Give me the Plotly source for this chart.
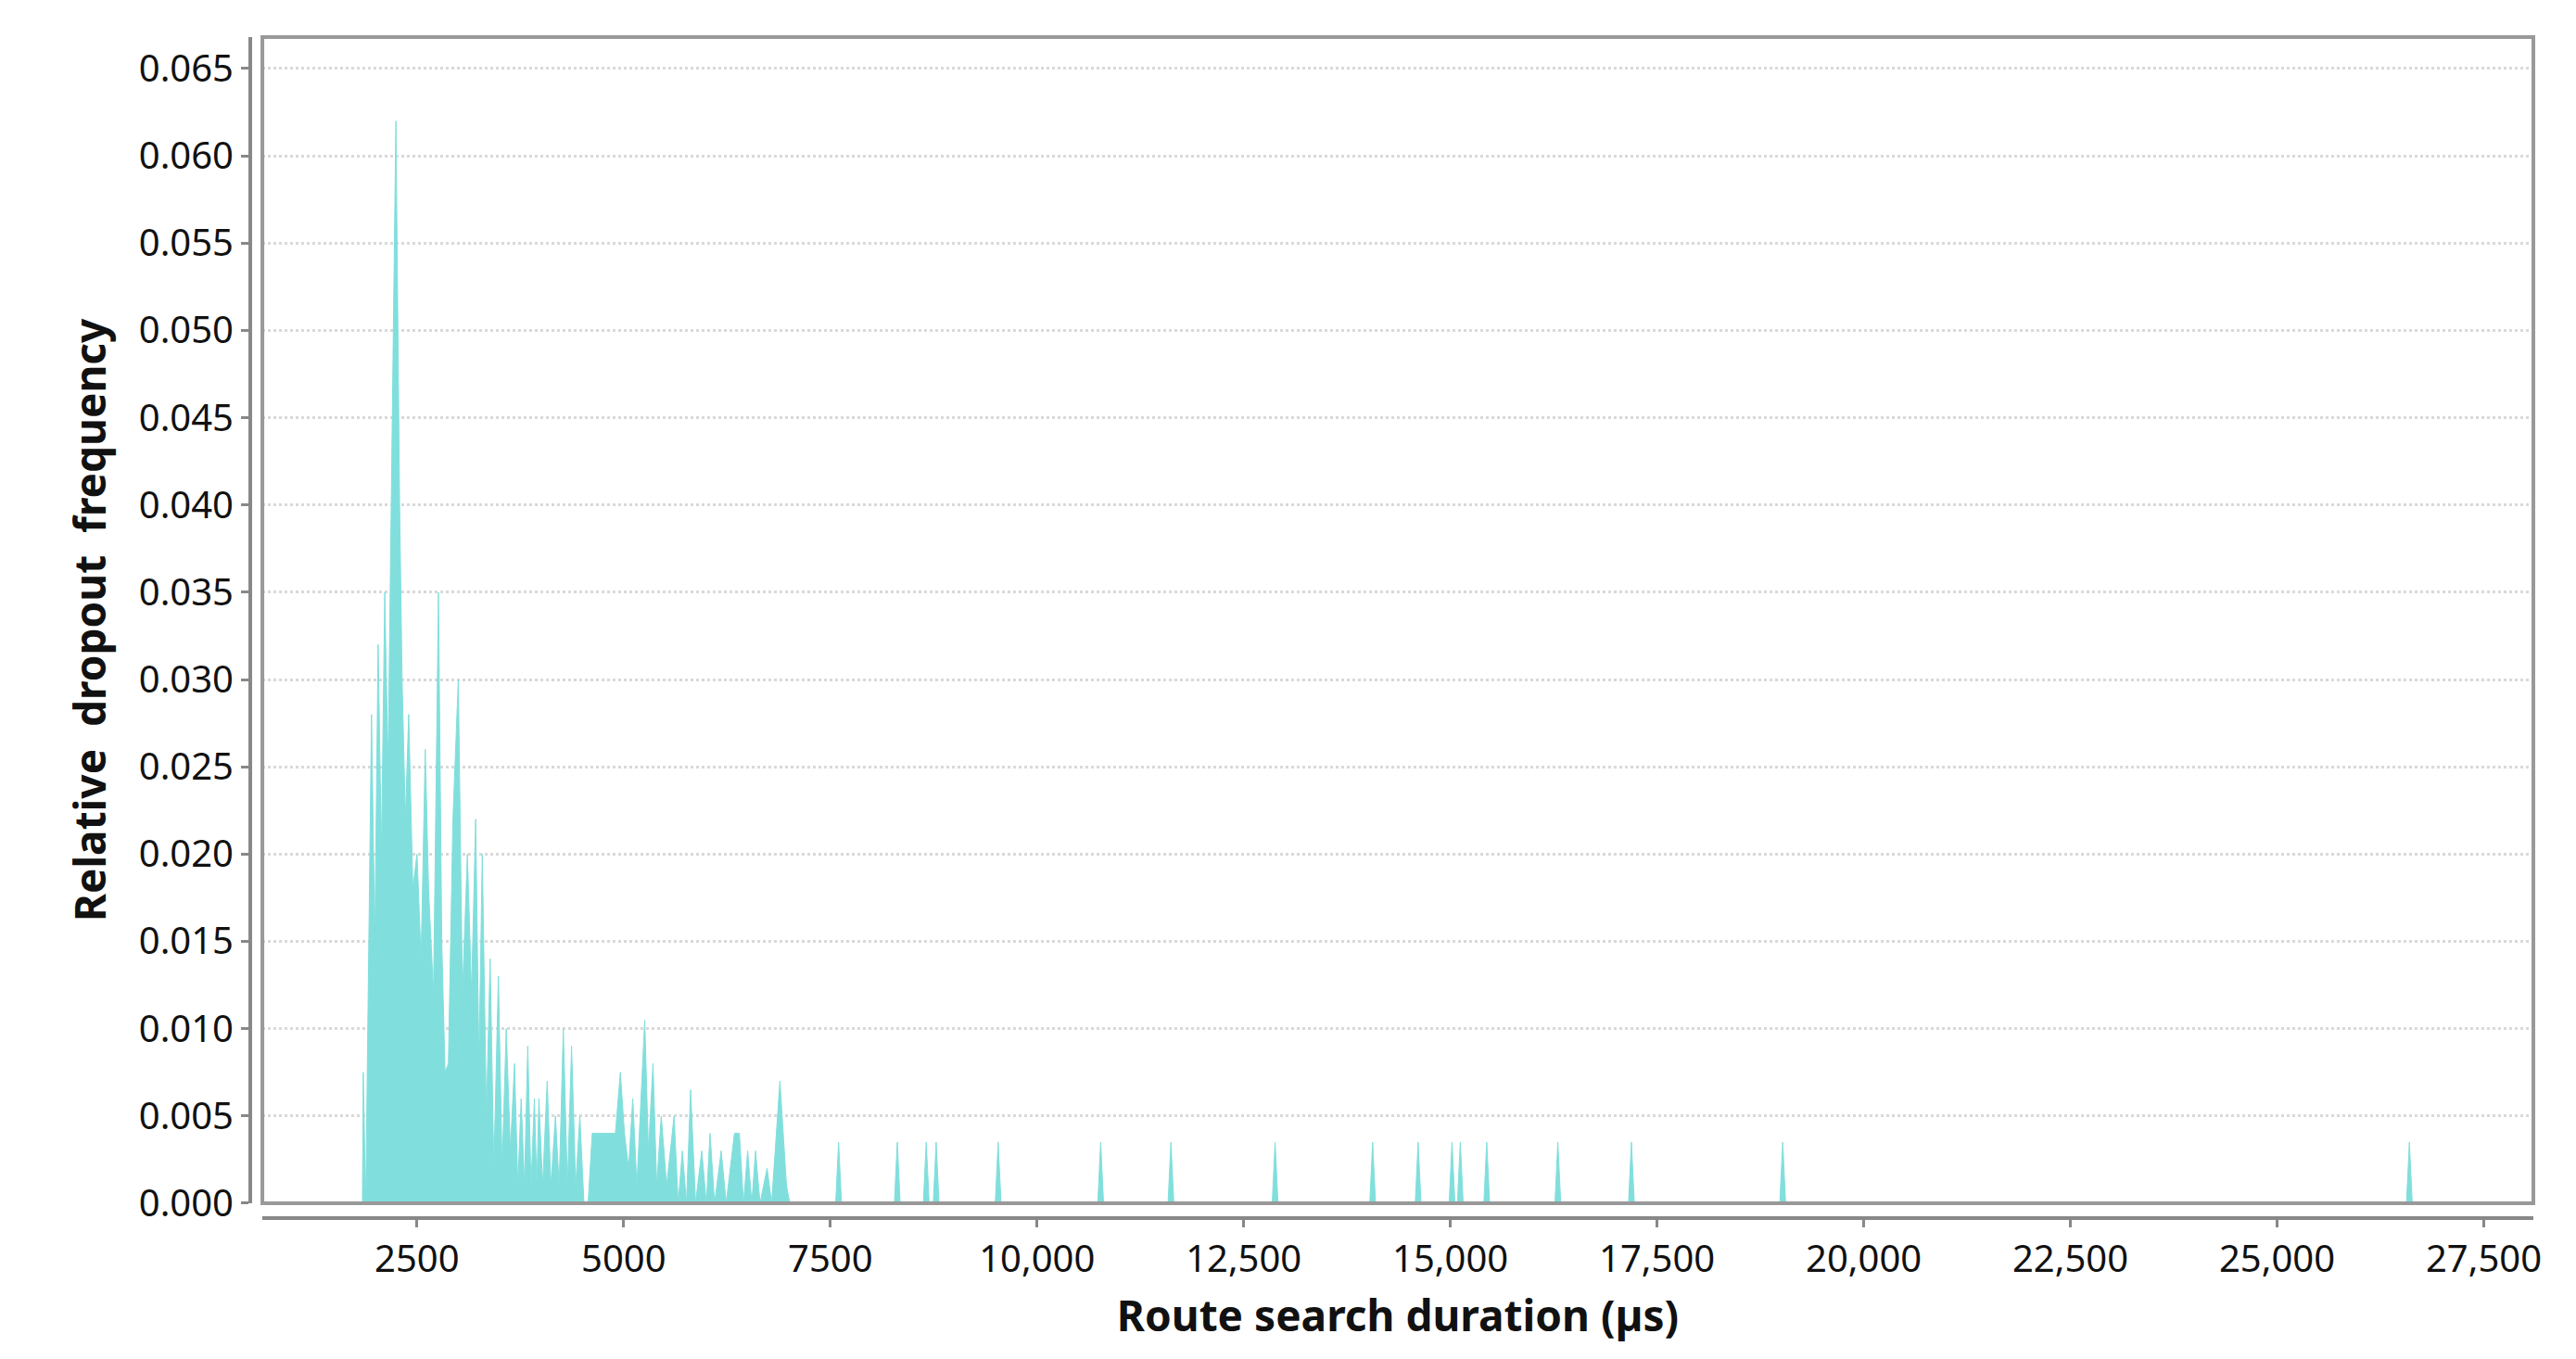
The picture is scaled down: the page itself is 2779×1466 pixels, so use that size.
import plotly.graph_objects as go

# dense part of the distribution (route search duration in µs, relative frequency)
dense_x = [1840, 1850, 1880, 1950, 1990, 2030, 2070, 2110, 2150, 2200, 2245, 2290, 2320, 2360,
           2400, 2450, 2500, 2550, 2600, 2640, 2700, 2760, 2800, 2840, 2880, 2935, 3000, 3050,
           3110, 3160, 3210, 3250, 3290, 3340, 3385, 3430, 3485, 3530, 3580, 3630, 3680, 3720,
           3760, 3800, 3840, 3880, 3920, 3950, 3975, 4020, 4075, 4120, 4175, 4220, 4270, 4320,
           4370, 4420, 4470, 4520, 4570, 4620, 4900, 4960, 5010, 5060, 5110, 5160, 5255, 5300,
           5355, 5400, 5455, 5520, 5610, 5660, 5710, 5760, 5810, 5870, 5945, 6000, 6045, 6100,
           6180, 6240, 6340, 6400, 6450, 6500, 6550, 6595, 6650, 6735, 6790, 6890, 6970, 7010]
dense_y = [0, 0.0075, 0, 0.028, 0.015, 0.032, 0.02, 0.035, 0.025, 0.045, 0.062, 0.04, 0.03, 0.022,
           0.028, 0.018, 0.02, 0.014, 0.026, 0.018, 0.012, 0.035, 0.015, 0.0075, 0.008, 0.022, 0.03, 0.012,
           0.02, 0.012, 0.022, 0.008, 0.02, 0.005, 0.014, 0.002, 0.013, 0.002, 0.01, 0.003, 0.008, 0.001,
           0.006, 0.001, 0.009, 0.001, 0.006, 0.001, 0.006, 0.001, 0.007, 0.001, 0.005, 0.001, 0.01, 0.001,
           0.009, 0.001, 0.005, 0, 0, 0.004, 0.004, 0.0075, 0.004, 0.002, 0.006, 0.001, 0.0105, 0.003,
           0.008, 0.001, 0.005, 0.001, 0.005, 0, 0.003, 0, 0.0065, 0, 0.003, 0, 0.004, 0,
           0.003, 0, 0.004, 0.004, 0, 0.003, 0, 0.003, 0, 0.002, 0, 0.007, 0.001, 0]

# isolated rare durations
spike_x = [7600, 8310, 8660, 8780, 9530, 10770, 11620, 12880, 14060, 14610, 15020, 15120,
           15440, 16300, 17190, 19020, 26600]
spike_y = [0.0035] * len(spike_x)

y_ticks = [0.000, 0.005, 0.010, 0.015, 0.020, 0.025, 0.030, 0.035, 0.040, 0.045, 0.050, 0.055, 0.060, 0.065]
x_ticks = [2500, 5000, 7500, 10000, 12500, 15000, 17500, 20000, 22500, 25000, 27500]
x_labels = ["2500", "5000", "7500", "10,000", "12,500", "15,000", "17,500", "20,000", "22,500", "25,000", "27,500"]

fill = "#80dfdc"
half = 35

xs, ys = list(dense_x), list(dense_y)
for sx, sy in zip(spike_x, spike_y):
    xs += [None, sx - half, sx, sx + half]
    ys += [None, 0, sy, 0]

fig = go.Figure()
fig.add_trace(go.Scatter(
    x=xs, y=ys, mode="lines", fill="toself",
    line=dict(color=fill, width=1), fillcolor=fill,
    hoverinfo="skip", showlegend=False
))

fig.update_layout(
    width=2779, height=1466,
    margin=dict(l=262, r=54, t=32, b=160),
    plot_bgcolor="white", paper_bgcolor="white",
    font=dict(family="Noto Sans", size=40, color="#111"),
    xaxis=dict(
        domain=[0.0053, 1], anchor="free", position=0,
        range=[630, 28100], tickvals=x_ticks, ticktext=x_labels,
        showgrid=False, zeroline=False,
        showline=True, linecolor="#888", linewidth=4,
        ticks="outside", ticklen=8, tickcolor="#888", tickwidth=3,
        title=dict(text="<b>Route search duration (µs)</b>", font=dict(size=46), standoff=20),
    ),
    yaxis=dict(
        domain=[0.0126, 1], anchor="free", position=0,
        range=[0, 0.0668], tickvals=y_ticks, tickformat=".3f",
        showgrid=True, gridcolor="#d9d9d9", griddash="dot", gridwidth=3,
        zeroline=False, showline=True, linecolor="#888", linewidth=4,
        ticks="outside", ticklen=8, tickcolor="#888", tickwidth=3,
        title=dict(text="<b>Relative  dropout  frequency</b>", font=dict(size=46), standoff=20),
    ),
    shapes=[dict(type="rect", xref="x domain", yref="y domain", x0=0, x1=1, y0=0, y1=1,
                 line=dict(color="#999", width=4))],
)

fig.write_html("out.html")
